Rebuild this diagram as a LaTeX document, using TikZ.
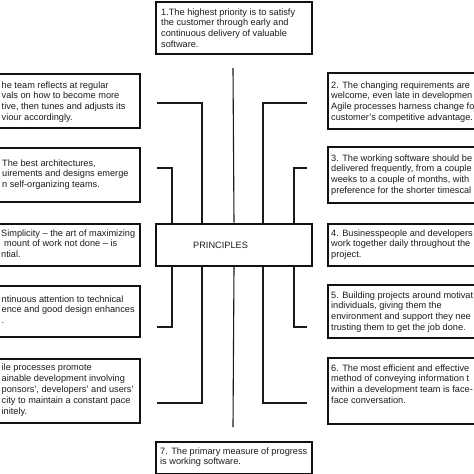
\documentclass[tikz,border=0pt]{standalone}
\usepackage{fontspec}
\setmainfont{Liberation Sans}
\definecolor{boxc}{HTML}{111111}
\definecolor{linec}{HTML}{1A1A1A}
\definecolor{txtc}{HTML}{1C1C1C}
\newcommand\boxtext[1]{\parbox[t]{300pt}{\fontsize{9.2}{10.9}\selectfont #1}}
\begin{document}
\begin{tikzpicture}[x=1pt,y=-1pt,
  box/.style={draw=boxc, line width=2pt, inner sep=0pt, anchor=north west},
  txt/.style={inner sep=0pt, anchor=base west, text=txtc},
  conn/.style={draw=linec, line width=1.1pt}]
\useasboundingbox[fill=white] (0,0) rectangle (474,474);

% top and bottom boxes
\node[box, minimum width=156pt, minimum height=52pt] (b1) at (155,1.2) {};
\node[txt] (t1) at (161,15) {\boxtext{1.The highest priority is to satisfy\\the customer through early and\\continuous delivery of valuable\\software.}};
\node[box, minimum width=156pt, minimum height=31.5pt] (b7) at (155,441) {};
\node[txt] (t7) at (160,454) {\boxtext{7. The primary measure of progress\\is working software.}};

% central box
\node[box, minimum width=156pt, minimum height=42.5pt] (P) at (155,222.5) {};
\node[txt] (tp) at (193,248) {\boxtext{PRINCIPLES}};

% left boxes
\node[box, minimum width=149pt, minimum height=54pt] (l1) at (-10,73) {};
\node[txt] (tl1) at (1.5,88) {\boxtext{he team reflects at regular\\vals on how to become more\\tive, then tunes and adjusts its\\viour accordingly.}};
\node[box, minimum width=149pt, minimum height=54pt] (l2) at (-10,147) {};
\node[txt] (tl2) at (2,166) {\boxtext{The best architectures,\\uirements and designs emerge\\n self-organizing teams.}};
\node[box, minimum width=149pt, minimum height=42.5pt] (l3) at (-10,222.5) {};
\node[txt] (tl3) at (1,236) {\boxtext{Simplicity – the art of maximizing\\\hspace*{3pt}mount of work not done – is\\ntial.}};
\node[box, minimum width=149pt, minimum height=51pt] (l4) at (-10,285) {};
\node[txt] (tl4) at (1.5,302) {\boxtext{ntinuous attention to technical\\ence and good design enhances\\.}};
\node[box, minimum width=149pt, minimum height=64pt] (l5) at (-10,358) {};
\node[txt] (tl5) at (1.5,370.5) {\boxtext{ile processes promote\\ainable development involving\\ponsors', developers' and users'\\city to maintain a constant pace\\initely.}};

% right boxes
\node[box, minimum width=160pt, minimum height=56pt] (r2) at (326.5,72) {};
\node[txt] (tr2) at (331,88) {\boxtext{2. The changing requirements are\\welcome, even late in developmen\\Agile processes harness change fo\\customer's competitive advantage.}};
\node[box, minimum width=160pt, minimum height=56pt] (r3) at (326.5,146) {};
\node[txt] (tr3) at (331,161) {\boxtext{3. The working software should be\\delivered frequently, from a couple\\weeks to a couple of months, with\\preference for the shorter timescal}};
\node[box, minimum width=160pt, minimum height=42.5pt] (r4) at (326.5,222.5) {};
\node[txt] (tr4) at (331,236) {\boxtext{4. Businesspeople and developers\\work together daily throughout the\\project.}};
\node[box, minimum width=160pt, minimum height=53pt] (r5) at (326.5,284) {};
\node[txt] (tr5) at (331,298) {\boxtext{5. Building projects around motivat\\individuals, giving them the\\environment and support they nee\\trusting them to get the job done.}};
\node[box, minimum width=160pt, minimum height=66pt] (r6) at (326.5,357) {};
\node[txt] (tr6) at (331,371) {\boxtext{6. The most efficient and effective\\method of conveying information t\\within a development team is face-\\face conversation.}};

% connector ends
\coordinate (cTop) at (233,68);
\coordinate (cBot) at (233,427);
\coordinate (lo1) at (157,103);
\coordinate (li1) at (157,168);
\coordinate (ro1) at (307,103);
\coordinate (ri1) at (307,168);
\coordinate (li2) at (157,327);
\coordinate (lo2) at (157,403);
\coordinate (ri2) at (307,327);
\coordinate (ro2) at (307,403);

\draw[conn] (P.north) -- (cTop);
\draw[conn] (P.south) -- (cBot);
\draw[conn] ([xshift=-32pt]P.north) |- (lo1);
\draw[conn] ([xshift=-62pt]P.north) |- (li1);
\draw[conn] ([xshift=29pt]P.north) |- (ro1);
\draw[conn] ([xshift=60pt]P.north) |- (ri1);
\draw[conn] ([xshift=-62pt]P.south) |- (li2);
\draw[conn] ([xshift=-32pt]P.south) |- (lo2);
\draw[conn] ([xshift=60pt]P.south) |- (ri2);
\draw[conn] ([xshift=29pt]P.south) |- (ro2);
\end{tikzpicture}
\end{document}
